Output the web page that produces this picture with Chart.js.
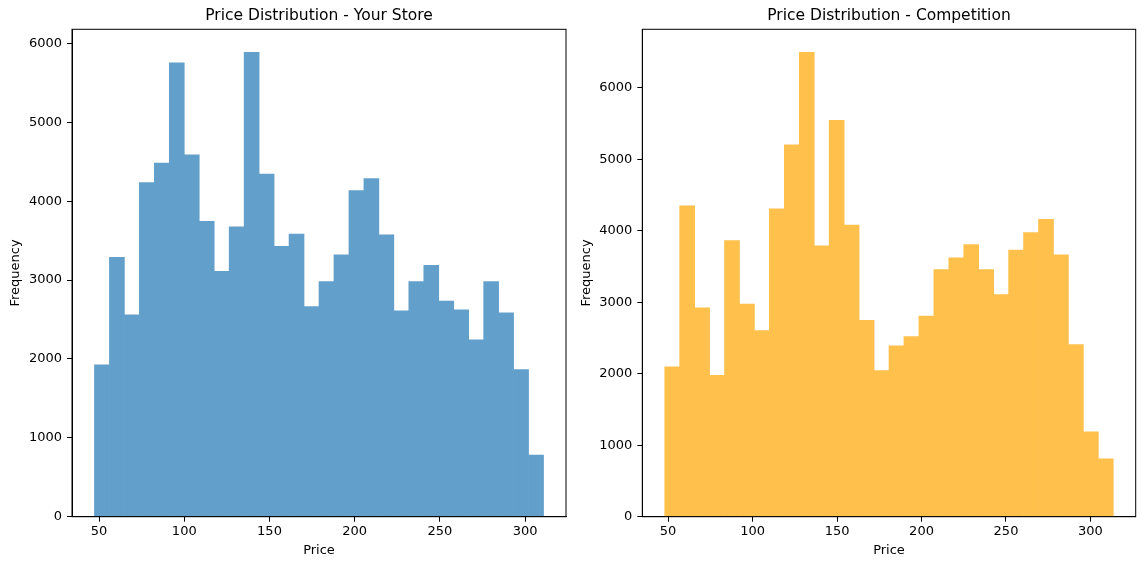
<!DOCTYPE html>
<html>
<head>
<meta charset="utf-8">
<script src="https://cdn.jsdelivr.net/npm/chart.js@4/dist/chart.umd.min.js"></script>
<style>
  html, body { margin: 0; padding: 0; background: #fff; }
  #wrap { position: relative; width: 1144px; height: 568px; overflow: hidden; }
  canvas { position: absolute; top: 0; }
</style>
</head>
<body>
<div id="wrap">
  <canvas id="c1" width="572" height="568" style="left:0px;width:572px;height:568px"></canvas>
  <canvas id="c2" width="572" height="568" style="left:572px;width:572px;height:568px"></canvas>
</div>
<script>
// ---- data ----
const storeTitle = "Price Distribution - Your Store";
const compTitle = "Price Distribution - Competition";
const xLabel = "Price";
const yLabel = "Frequency";

const storeEdges = [47.30, 56.08, 64.87, 73.65, 82.43, 91.22, 100.00, 108.78, 117.56, 126.35,
  135.13, 143.91, 152.70, 161.48, 170.26, 179.05, 187.83, 196.61, 205.39, 214.18,
  222.96, 231.74, 240.53, 249.31, 258.09, 266.88, 275.66, 284.44, 293.22, 302.01, 310.79];
const storeCounts = [1925, 3290, 2560, 4235, 4483, 5756, 4589, 3744, 3110, 3675,
  5889, 4345, 3427, 3583, 2664, 2981, 3321, 4134, 4286, 3574,
  2609, 2981, 3188, 2733, 2623, 2242, 2981, 2586, 1865, 781];

const compEdges = [48.00, 56.85, 65.70, 74.55, 83.40, 92.25, 101.10, 109.95, 118.80, 127.65,
  136.50, 145.35, 154.20, 163.05, 171.90, 180.75, 189.60, 198.45, 207.30, 216.15,
  225.00, 233.85, 242.70, 251.55, 260.40, 269.25, 278.10, 286.95, 295.80, 304.65, 313.50];
const compCounts = [2098, 4349, 2924, 1977, 3862, 2975, 2605, 4308, 5205, 6498,
  3791, 5545, 4080, 2747, 2043, 2392, 2519, 2808, 3457, 3624,
  3806, 3457, 3107, 3730, 3974, 4161, 3664, 2407, 1186, 811];

const xTicks = [50, 100, 150, 200, 250, 300];
const storeYTicks = [0, 1000, 2000, 3000, 4000, 5000, 6000];
const compYTicks = [0, 1000, 2000, 3000, 4000, 5000, 6000];

// ---- helpers ----
const FONT = "'DejaVu Sans', sans-serif";

function toPoints(edges, counts) {
  return counts.map((c, i) => ({ x: (edges[i] + edges[i + 1]) / 2, y: c }));
}

function framePlugin(title) {
  return {
    id: 'frame',
    afterDraw(chart) {
      const { ctx, chartArea: a } = chart;
      ctx.save();
      ctx.strokeStyle = '#000';
      ctx.lineWidth = 1;
      ctx.strokeRect(a.left, a.top, a.right - a.left, a.bottom - a.top);
      ctx.fillStyle = '#000';
      ctx.font = "15.5px " + FONT;
      ctx.textAlign = 'center';
      ctx.textBaseline = 'middle';
      ctx.fillText(title, (a.left + a.right) / 2, 15.5);
      ctx.restore();
    }
  };
}

function makeChart(id, cfg) {
  const data = toPoints(cfg.edges, cfg.counts);
  const span = cfg.edges[cfg.edges.length - 1] - cfg.edges[0];
  return new Chart(document.getElementById(id), {
    type: 'bar',
    data: {
      datasets: [{
        data: data,
        backgroundColor: cfg.color,
        borderWidth: 0,
        barPercentage: 1.0,
        categoryPercentage: 1.0
      }]
    },
    options: {
      responsive: false,
      animation: false,
      devicePixelRatio: 1,
      layout: { padding: { left: 0, right: cfg.padRight, top: 29.3, bottom: 0 } },
      plugins: { legend: { display: false }, tooltip: { enabled: false }, title: { display: false } },
      scales: {
        x: {
          type: 'linear',
          offset: false,
          min: cfg.edges[0] - span * 0.05,
          max: cfg.edges[cfg.edges.length - 1] + span * 0.05,
          afterBuildTicks: (s) => { s.ticks = xTicks.map(v => ({ value: v })); },
          afterFit: (s) => { s.height = 51.3; },
          grid: { display: true, offset: false, drawOnChartArea: false, drawTicks: true, tickLength: 5, tickColor: '#000', tickWidth: 1 },
          border: { display: true, color: '#000', width: 1 },
          ticks: { color: '#000', font: { family: FONT, size: 13 }, padding: 2.5, maxRotation: 0, autoSkip: false, callback: (v) => String(v) },
          title: { display: true, text: xLabel, color: '#000', font: { family: FONT, size: 13 }, padding: { top: 0, bottom: 9.5 } }
        },
        y: {
          type: 'linear',
          min: 0,
          max: cfg.yMax,
          afterBuildTicks: (s) => { s.ticks = cfg.yTicks.map(v => ({ value: v })); },
          afterFit: (s) => { s.width = cfg.yWidth; },
          grid: { display: true, drawOnChartArea: false, drawTicks: true, tickLength: 5, tickColor: '#000', tickWidth: 1 },
          border: { display: true, color: '#000', width: 1 },
          ticks: { color: '#000', font: { family: FONT, size: 13 }, padding: 5, autoSkip: false, callback: (v) => String(v) },
          title: { display: true, text: yLabel, color: '#000', font: { family: FONT, size: 13 }, padding: { top: cfg.yTitlePad, bottom: 0 } }
        }
      }
    },
    plugins: [framePlugin(cfg.title)]
  });
}

makeChart('c1', {
  edges: storeEdges, counts: storeCounts, color: '#62A0CB', title: storeTitle,
  yMax: 6180, yTicks: storeYTicks, yWidth: 72, padRight: 6, yTitlePad: 8.2
});
makeChart('c2', {
  edges: compEdges, counts: compCounts, color: '#FFC04C', title: compTitle,
  yMax: 6820, yTicks: compYTicks, yWidth: 70.3, padRight: 8.3, yTitlePad: 6.5
});
</script>
</body>
</html>
